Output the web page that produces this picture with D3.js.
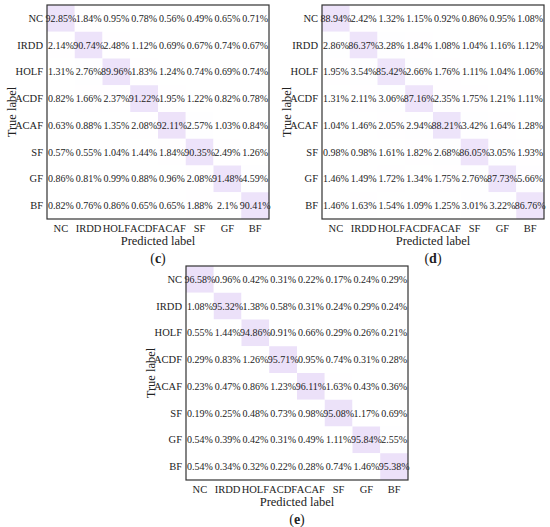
<!DOCTYPE html>
<html><head><meta charset="utf-8">
<script src="https://cdn.jsdelivr.net/npm/d3@7"></script>
<style>body{margin:0;background:#fff}text{font-family:"Liberation Serif","Times New Roman",serif;fill:#222}</style>
</head><body><svg id="c" width="550" height="527"></svg>
<script>
const classes=["NC","IRDD","HOLF","ACDF","ACAF","SF","GF","BF"];
const matC=[[92.85,1.84,0.95,0.78,0.56,0.49,0.65,0.71],[2.14,90.74,2.48,1.12,0.69,0.67,0.74,0.67],[1.31,2.76,89.96,1.83,1.24,0.74,0.69,0.74],[0.82,1.66,2.37,91.22,1.95,1.22,0.82,0.78],[0.63,0.88,1.35,2.08,92.11,2.57,1.03,0.84],[0.57,0.55,1.04,1.44,1.84,90.35,2.49,1.26],[0.86,0.81,0.99,0.88,0.96,2.08,91.48,4.59],[0.82,0.76,0.86,0.65,0.65,1.88,2.1,90.41]];
const matD=[[88.94,2.42,1.32,1.15,0.92,0.86,0.95,1.08],[2.86,86.37,3.28,1.84,1.08,1.04,1.16,1.12],[1.95,3.54,85.42,2.66,1.76,1.11,1.04,1.06],[1.31,2.11,3.06,87.16,2.35,1.75,1.21,1.11],[1.04,1.46,2.05,2.94,88.21,3.42,1.64,1.28],[0.98,0.98,1.61,1.82,2.68,86.05,3.05,1.93],[1.46,1.49,1.72,1.34,1.75,2.76,87.73,5.66],[1.46,1.63,1.54,1.09,1.25,3.01,3.22,86.76]];
const matE=[[96.58,0.96,0.42,0.31,0.22,0.17,0.24,0.29],[1.08,95.32,1.38,0.58,0.31,0.24,0.29,0.24],[0.55,1.44,94.86,0.91,0.66,0.29,0.26,0.21],[0.29,0.83,1.26,95.71,0.95,0.74,0.31,0.28],[0.23,0.47,0.86,1.23,96.11,1.63,0.43,0.36],[0.19,0.25,0.48,0.73,0.98,95.08,1.17,0.69],[0.54,0.39,0.42,0.31,0.49,1.11,95.84,2.55],[0.54,0.34,0.32,0.22,0.28,0.74,1.46,95.38]];
const panels=[{m:matC,x:47,y:5,l:"c"},{m:matD,x:322,y:5,l:"d"},{m:matE,x:186,y:266,l:"e"}];
const W=222,H=214;
const svg=d3.select("#c");
const col=d3.scaleLinear().domain([0,100]).range(["#ffffff","#ebe0f9"]);
panels.forEach(p=>{
  const g=svg.append("g").attr("transform",`translate(${p.x},${p.y})`);
  const xs=d3.scaleBand().domain(classes).range([0,W]);
  const ys=d3.scaleBand().domain(classes).range([0,H]);
  const cells=[];p.m.forEach((r,i)=>r.forEach((v,j)=>cells.push({i,j,v})));
  g.selectAll("rect.c").data(cells).join("rect").attr("x",d=>xs(classes[d.j])).attr("y",d=>ys(classes[d.i]))
   .attr("width",xs.bandwidth()).attr("height",ys.bandwidth()).attr("fill",d=>col(d.v));
  g.selectAll("text.v").data(cells).join("text").attr("x",d=>xs(classes[d.j])+xs.bandwidth()/2).attr("y",d=>ys(classes[d.i])+ys.bandwidth()/2)
   .attr("text-anchor","middle").attr("dominant-baseline","central").attr("font-size",10).text(d=>d.v+"%");
  g.append("rect").attr("width",W).attr("height",H).attr("fill","none").attr("stroke","#333").attr("stroke-width",1.2);
  g.selectAll("text.r").data(classes).join("text").attr("x",-4).attr("y",d=>ys(d)+ys.bandwidth()/2).attr("text-anchor","end")
   .attr("dominant-baseline","central").attr("font-size",10.5).text(d=>d);
  g.selectAll("text.cl").data(classes).join("text").attr("x",d=>xs(d)+xs.bandwidth()/2).attr("y",H+13).attr("text-anchor","middle")
   .attr("font-size",10.5).text(d=>d);
  g.append("text").attr("x",W/2).attr("y",H+26).attr("text-anchor","middle").attr("font-size",12.5).text("Predicted label");
  g.append("text").attr("transform",`translate(-31,${H/2}) rotate(-90)`).attr("text-anchor","middle").attr("font-size",12.5).text("True label");
  const t=g.append("text").attr("x",W/2).attr("y",H+44).attr("text-anchor","middle").attr("font-size",14);
  t.append("tspan").text("(");t.append("tspan").attr("font-weight","bold").text(p.l);t.append("tspan").text(")");
});
</script></body></html>
